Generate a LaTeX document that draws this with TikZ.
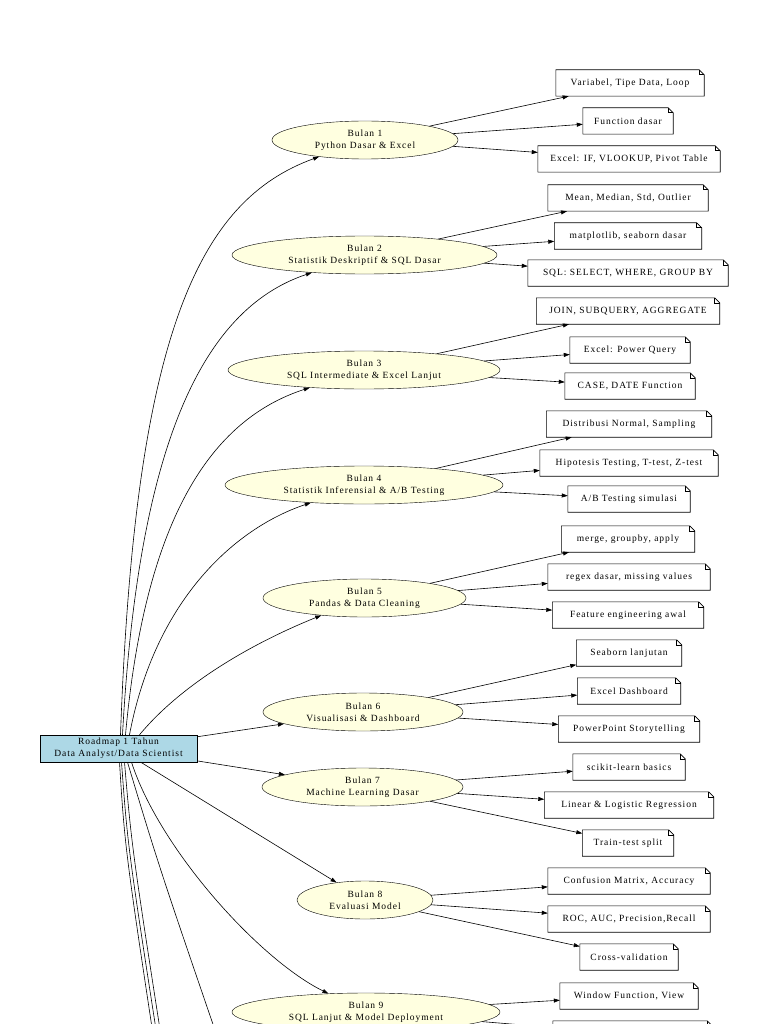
\documentclass[tikz,border=0pt]{standalone}
\usepackage{fontspec}
\setmainfont{Liberation Serif}[LetterSpace=10]
\usetikzlibrary{shapes.geometric,arrows.meta}
\definecolor{rootblue}{HTML}{ADD8E6}
\definecolor{monthyellow}{HTML}{FFFFE0}
\begin{document}
\begin{tikzpicture}[x=1pt,y=-1pt,
  every node/.style={font=\fontsize{9.5}{12}\selectfont, align=center},
  rootbox/.style={draw, fill=rootblue, rectangle, minimum width=157pt, minimum height=27pt, inner sep=0pt},
  month/.style={draw, fill=monthyellow, ellipse, minimum height=38pt, inner sep=0pt},
  topic/.style={rectangle, fill=white, minimum height=26pt, inner xsep=4pt, inner ysep=0pt},
  notefold/.style={line width=0.6pt},
  link/.style={-{Triangle[length=6pt,width=4pt]}, line width=0.6pt},
  plainlink/.style={line width=0.6pt},
]
\useasboundingbox (0,0) rectangle (768,1024);
\clip (0,0) rectangle (768,1024);

% root
\node[rootbox] (root) at (118.5,748.5) {Roadmap 1 Tahun\\Data Analyst/Data Scientist};

% months
\node[month, minimum width=186pt] (b1) at (365,140) {Bulan 1\\Python Dasar \& Excel};
\node[month, minimum width=265pt] (b2) at (364.5,255) {Bulan 2\\Statistik Deskriptif \& SQL Dasar};
\node[month, minimum width=272pt] (b3) at (364,370) {Bulan 3\\SQL Intermediate \& Excel Lanjut};
\node[month, minimum width=278pt] (b4) at (364,485) {Bulan 4\\Statistik Inferensial \& A/B Testing};
\node[month, minimum width=203pt] (b5) at (364.5,598) {Bulan 5\\Pandas \& Data Cleaning};
\node[month, minimum width=200pt] (b6) at (363,712) {Bulan 6\\Visualisasi \& Dashboard};
\node[month, minimum width=201pt] (b7) at (362.5,787) {Bulan 7\\Machine Learning Dasar};
\node[month, minimum width=136pt] (b8) at (365,900) {Bulan 8\\Evaluasi Model};
\node[month, minimum width=268pt] (b9) at (366,1012) {Bulan 9\\SQL Lanjut \& Model Deployment};

% off-picture ends of the remaining root edges
\coordinate (b10) at (163,1100);
\coordinate (b11) at (167,1100);
\coordinate (b12) at (171,1100);
\coordinate (b13) at (239,1100);

% topics
\node[topic, minimum width=148pt] (t11) at (630,83) {Variabel, Tipe Data, Loop};
\node[topic, minimum width=90pt] (t12) at (628,121) {Function dasar};
\node[topic, minimum width=182pt] (t13) at (629,159) {Excel: IF, VLOOKUP, Pivot Table};
\node[topic, minimum width=160pt] (t21) at (628,198) {Mean, Median, Std, Outlier};
\node[topic, minimum width=147pt] (t22) at (628,236) {matplotlib, seaborn dasar};
\node[topic, minimum width=200pt] (t23) at (628,273) {SQL: SELECT, WHERE, GROUP BY};
\node[topic, minimum width=183pt] (t31) at (628,311) {JOIN, SUBQUERY, AGGREGATE};
\node[topic, minimum width=120pt] (t32) at (630,350) {Excel: Power Query};
\node[topic, minimum width=130pt] (t33) at (630,386) {CASE, DATE Function};
\node[topic, minimum width=165pt] (t41) at (629,424) {Distribusi Normal, Sampling};
\node[topic, minimum width=178pt] (t42) at (629,463) {Hipotesis Testing, T-test, Z-test};
\node[topic, minimum width=122pt] (t43) at (629,499) {A/B Testing simulasi};
\node[topic, minimum width=133pt] (t51) at (628,539) {merge, groupby, apply};
\node[topic, minimum width=162pt] (t52) at (629,577) {regex dasar, missing values};
\node[topic, minimum width=151pt] (t53) at (628,615) {Feature engineering awal};
\node[topic, minimum width=105pt] (t61) at (629,653) {Seaborn lanjutan};
\node[topic, minimum width=103pt] (t62) at (629,691) {Excel Dashboard};
\node[topic, minimum width=141pt] (t63) at (629,729) {PowerPoint Storytelling};
\node[topic, minimum width=112pt] (t71) at (629,767) {scikit-learn basics};
\node[topic, minimum width=169pt] (t72) at (629,805) {Linear \& Logistic Regression};
\node[topic, minimum width=91pt] (t73) at (628,843) {Train-test split};
\node[topic, minimum width=162pt] (t81) at (629,881) {Confusion Matrix, Accuracy};
\node[topic, minimum width=162pt] (t82) at (629,919) {ROC, AUC, Precision,Recall};
\node[topic, minimum width=98pt] (t83) at (629,957) {Cross-validation};
\node[topic, minimum width=138pt] (t91) at (629,996) {Window Function, View};
\node[topic, minimum width=159pt] (t92) at (632.5,1034) {};

% note outlines
\foreach \n in {t11,t12,t13,t21,t22,t23,t31,t32,t33,t41,t42,t43,t51,t52,t53,t61,t62,t63,t71,t72,t73,t81,t82,t83,t91,t92}{
  \draw[notefold] (\n.south west) -- (\n.north west) -- ([xshift=-5pt]\n.north east)
     -- ([yshift=-5pt]\n.north east) -- (\n.south east) -- cycle;
  \draw[notefold] ([xshift=-5pt]\n.north east) -- ([xshift=-5pt,yshift=-5pt]\n.north east)
     -- ([yshift=-5pt]\n.north east);
}

% root to months
\draw[link] ([xshift=2pt]root.north) .. controls (135,330) and (200,200) .. (b1);
\draw[link] ([xshift=4pt]root.north) .. controls (138,450) and (200,310) .. (b2);
\draw[link] ([xshift=7pt]root.north) .. controls (145,520) and (210,420) .. (b3);
\draw[link] ([xshift=11pt]root.north) .. controls (155,600) and (235,528) .. (b4);
\draw[link] ([xshift=21pt]root.north) .. controls (185,680) and (260,640) .. (b5);
\draw[link] (root) -- (b6);
\draw[link] (root) -- (b7);
\draw[link] (root) -- (b8);
\draw[link] ([xshift=13pt]root.south) .. controls (160,850) and (260,960) .. (b9);
\draw[plainlink] ([xshift=1pt]root.south) .. controls (125,850) .. (b10);
\draw[plainlink] ([xshift=3pt]root.south) .. controls (128,850) .. (b11);
\draw[plainlink] ([xshift=6pt]root.south) .. controls (132,850) .. (b12);
\draw[plainlink] ([xshift=9pt]root.south) .. controls (160,870) .. (b13);

% months to topics
\foreach \m/\t in {b1/t11,b1/t12,b1/t13,b2/t21,b2/t22,b2/t23,b3/t31,b3/t32,b3/t33,
  b4/t41,b4/t42,b4/t43,b5/t51,b5/t52,b5/t53,b6/t61,b6/t62,b6/t63,b7/t71,b7/t72,b7/t73,
  b8/t81,b8/t82,b8/t83,b9/t91,b9/t92}{
  \draw[link] (\m) -- (\t);
}
\end{tikzpicture}
\end{document}
